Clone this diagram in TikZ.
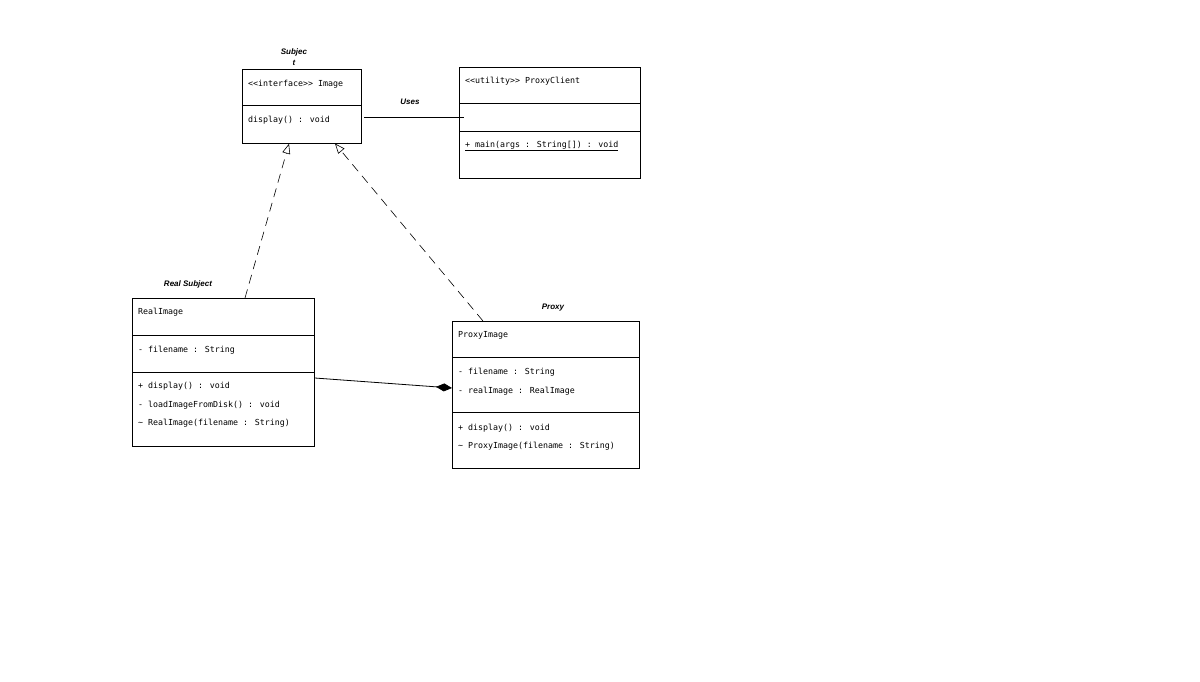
\documentclass[tikz,border=0pt]{standalone}
\usepackage{fontspec}
\setmainfont{Liberation Sans}
\newfontfamily\uml{DejaVu Sans Mono}
\usetikzlibrary{arrows.meta}
\begin{document}
\begin{tikzpicture}[x=1pt,y=-1pt,
  box/.style={draw,line width=0.7pt,inner sep=0pt,anchor=north west},
  txt/.style={anchor=west,inner sep=0pt,font=\uml\fontsize{8.3}{10}\selectfont},
  lbl/.style={inner sep=0pt,font=\bfseries\itshape\fontsize{8}{9}\selectfont},
  real/.style={dashed,dash pattern=on 9pt off 6pt,line width=0.6pt,-{Triangle[open,length=10pt,width=8pt]}},
  comp/.style={line width=0.8pt,-{Diamond[length=16pt,width=8pt]}}]
\useasboundingbox (0,0) rectangle (1200,682);
% Image
\node[box,minimum width=119pt,minimum height=74pt] (img) at (242,69) {};
\draw[line width=0.7pt] (242,105) -- (361,105);
\node[txt] (t1) at (248,84) {<<interface>> Image};
\node[txt] (t2) at (248,120) {display() : void};
% ProxyClient
\node[box,minimum width=181pt,minimum height=111pt] (pc) at (459,67) {};
\draw[line width=0.7pt] (459,103) -- (640,103) (459,131) -- (640,131);
\node[txt] (t3) at (465,81) {<<utility>> ProxyClient};
\node[txt] (t4) at (465,146) {\underline{+ main(args : String[]) : void}};
% RealImage
\node[box,minimum width=182pt,minimum height=148pt] (ri) at (132,298) {};
\draw[line width=0.7pt] (132,335) -- (314,335) (132,372) -- (314,372);
\node[txt] (t5) at (138,312) {RealImage};
\node[txt] (t6) at (138,350) {- filename : String};
\node[txt] (t7) at (138,386) {+ display() : void};
\node[txt] (t8) at (138,405) {- loadImageFromDisk() : void};
\node[txt] (t9) at (138,423) {\textasciitilde{} RealImage(filename : String)};
% ProxyImage
\node[box,minimum width=187pt,minimum height=147pt] (pi) at (452,321) {};
\draw[line width=0.7pt] (452,357) -- (639,357) (452,412) -- (639,412);
\node[txt] (t10) at (458,335) {ProxyImage};
\node[txt] (t11) at (458,372) {- filename : String};
\node[txt] (t12) at (458,391) {- realImage : RealImage};
\node[txt] (t13) at (458,428) {+ display() : void};
\node[txt] (t14) at (458,446) {\textasciitilde{} ProxyImage(filename : String)};
% labels
\node[lbl] (l1) at (294,52) {Subjec};
\node[lbl] (l1b) at (294,63) {t};
\node[lbl] (l2) at (410,102) {Uses};
\node[lbl] (l3) at (188,284) {Real Subject};
\node[lbl] (l4) at (553,308) {Proxy};
% connectors
\coordinate (u1) at (364,117);
\coordinate (u2) at (464,117);
\draw[line width=0.9pt] (u1) -- (u2);
\draw[real] (ri.north west) ++(113,0) coordinate (r1) (r1) -- (img.south west -| 289,0);
\draw[real] (483,321) coordinate (p1) -- (335,143.5) coordinate (p2);
\draw[comp] (ri.north east) ++(0,80) coordinate (c1) (c1) -- (452,388) coordinate (c2);
\end{tikzpicture}
\end{document}
